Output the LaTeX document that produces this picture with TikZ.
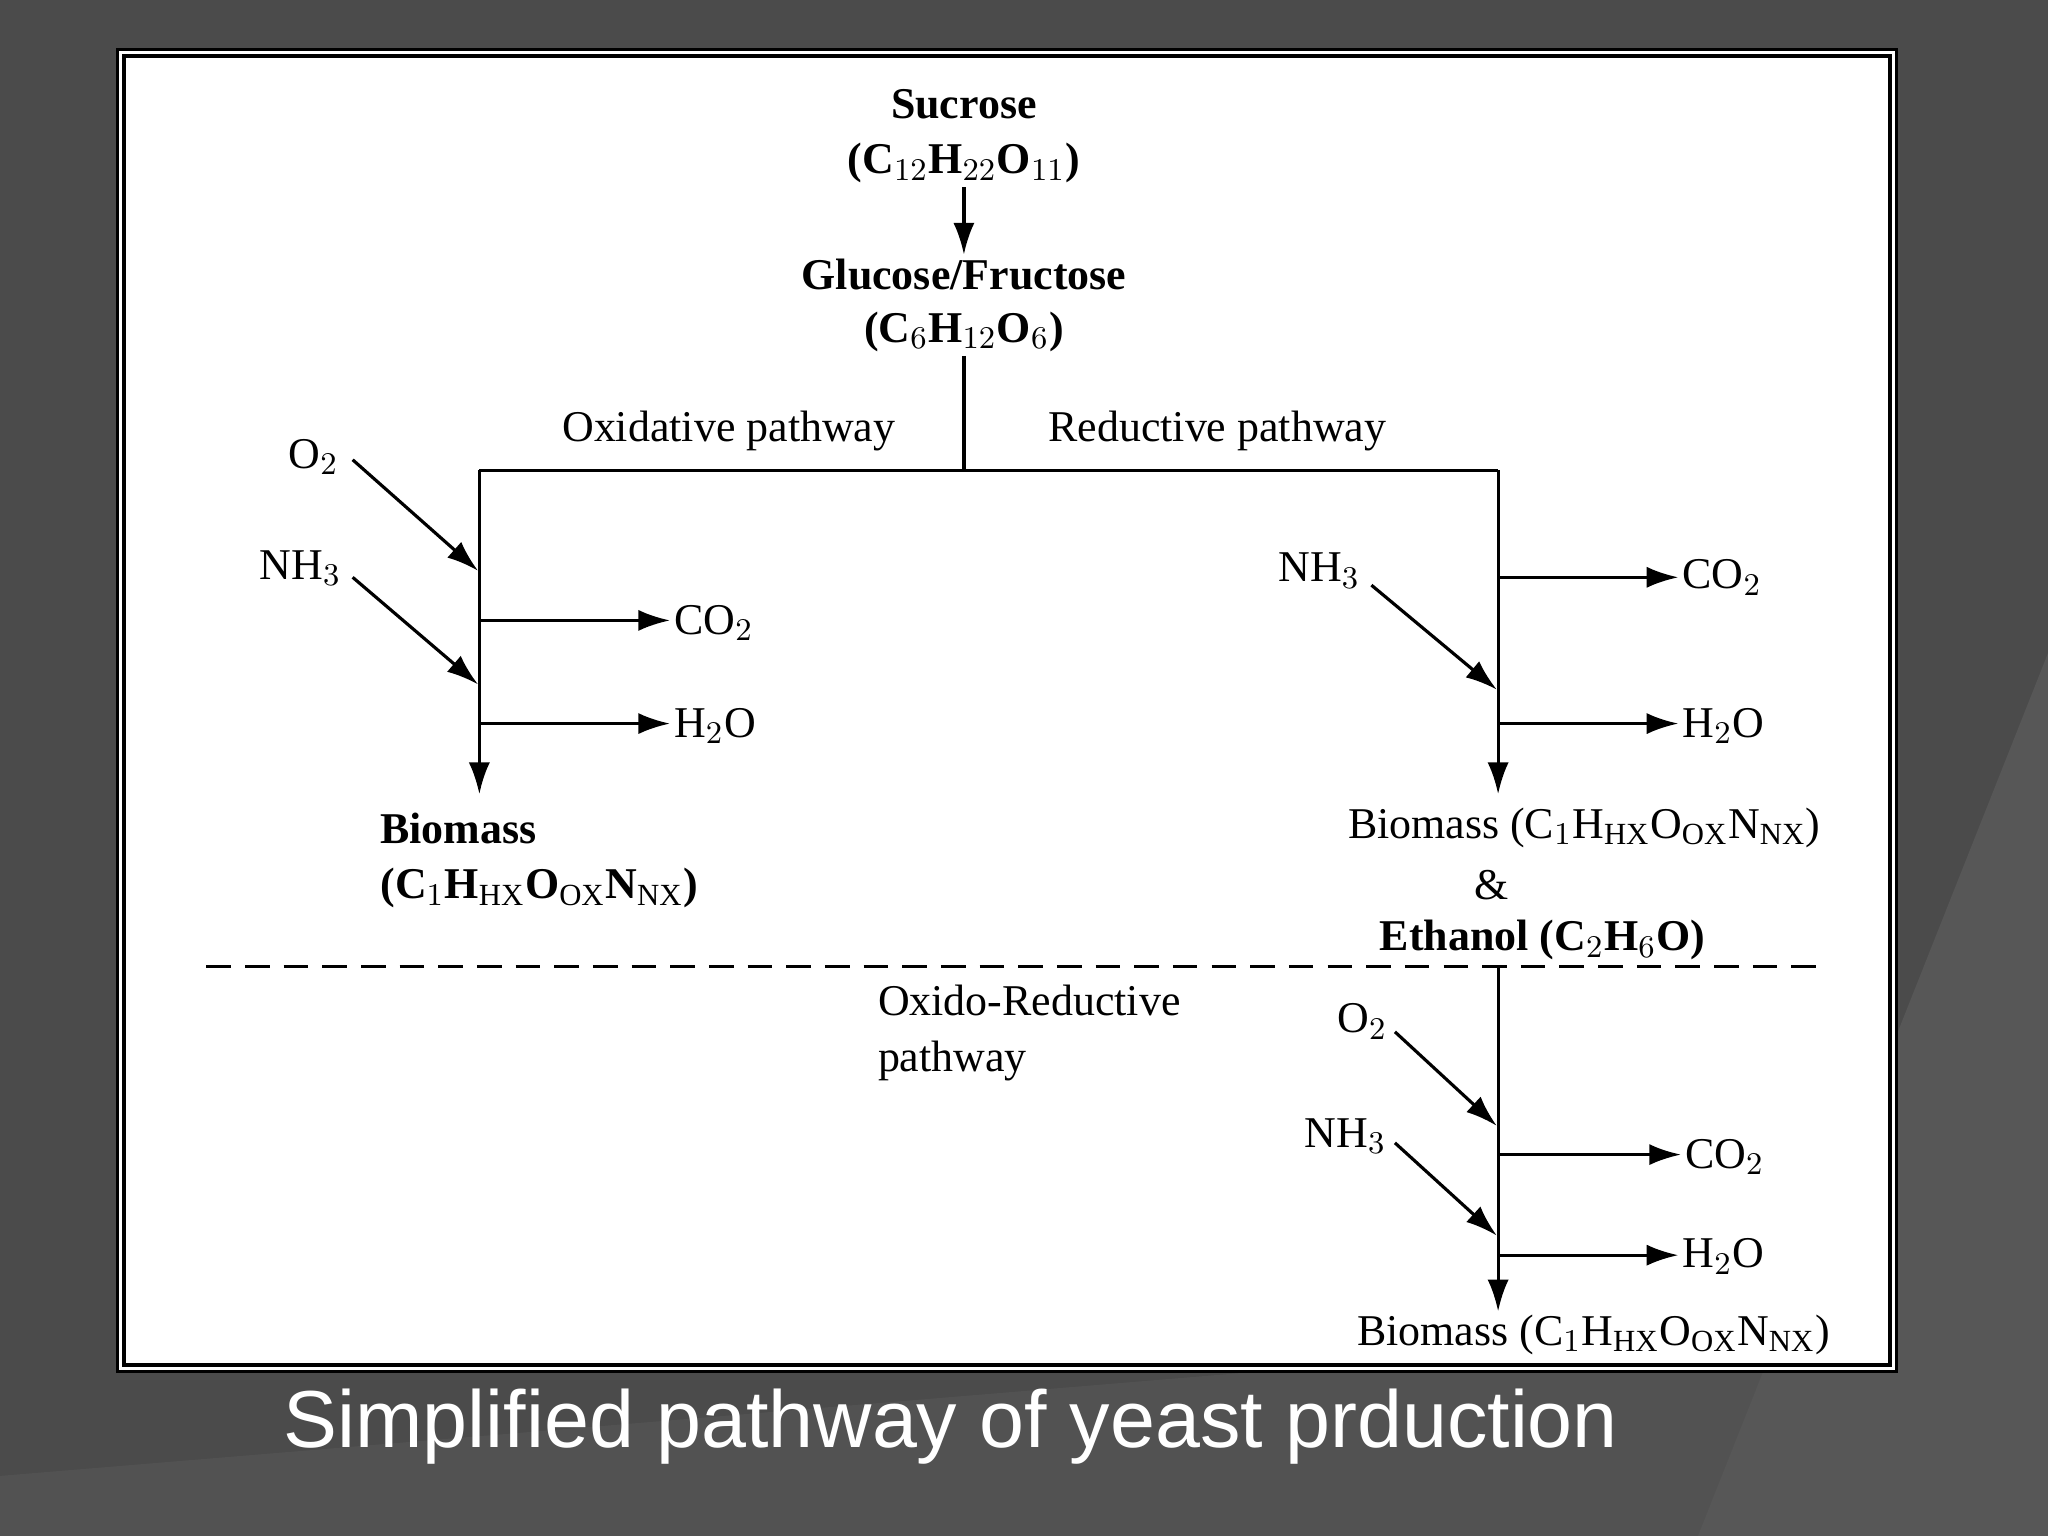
\documentclass[tikz,border=0pt]{standalone}
\usepackage{fontspec}
\setmainfont{Liberation Serif}
\newfontfamily\capfont{Liberation Sans}
\usetikzlibrary{arrows.meta}
\definecolor{bg}{HTML}{4B4B4B}
\definecolor{bgl}{HTML}{575757}
\begin{document}
\begin{tikzpicture}[x=0.01306cm,y=-0.01306cm,
  lbl/.style={font=\fontsize{12.5}{14}\selectfont,inner sep=1pt},
  bl/.style={lbl,font=\fontsize{12.5}{14}\selectfont\bfseries},
  arr/.style={-{Latex[length=9pt,width=6pt]},line width=0.9pt},
  ln/.style={line width=0.9pt}]
\useasboundingbox (0,0) rectangle (1568,1176);
\fill[bg] (0,0) rectangle (1568,1176);
\fill[bgl] (1568,0) -- (1568,500) -- (1300,1176) -- (1568,1176) -- cycle;
\fill[bgl,opacity=0.6] (0,1176) -- (0,1130) -- (1568,1000) -- (1568,1176) -- cycle;
\fill[white] (90,38) rectangle (1452,1050);
\draw[line width=1pt] (90,38) rectangle (1452,1050);
\draw[line width=1pt] (95,43) rectangle (1447,1045);
\node[text=white,font=\capfont\fontsize{23}{28}\selectfont] (cap) at (728,1092) {Simplified pathway of yeast prduction};
% top
\node[bl] (suc) at (738,80) {Sucrose};
\node[bl] (sucf) at (738,125) {(C$_{12}$H$_{22}$O$_{11}$)};
\node[bl] (glu) at (738,210) {Glucose/Fructose};
\node[bl] (gluf) at (738,254) {(C$_6$H$_{12}$O$_6$)};
\draw[arr] (sucf.south) -- (glu.north);
\coordinate (j) at (738,360);
\coordinate (lj) at (367,360);
\coordinate (rj) at (1147,360);
\draw[ln] (gluf.south) -- (j);
\draw[ln] (lj) -- (rj);
\node[lbl] (ox) at (558,330) {Oxidative pathway};
\node[lbl] (red) at (932,330) {Reductive pathway};
% left
\coordinate (lb) at (367,608);
\draw[arr] (lj) -- (lb);
\node[lbl] (o2a) at (240,350) {O$_2$};
\node[lbl] (nh3a) at (230,435) {NH$_3$};
\coordinate (la1) at (366,437); \coordinate (la2) at (366,524);
\draw[arr] (270,352) -- (la1);
\draw[arr] (270,442) -- (la2);
\node[lbl,anchor=west] (co2a) at (513,477) {CO$_2$};
\node[lbl,anchor=west] (h2oa) at (513,556) {H$_2$O};
\draw[arr] (367,475) -- (co2a.west|-0,475);
\draw[arr] (367,554) -- (h2oa.west|-0,554);
\node[bl,anchor=west] (bma) at (288,634) {Biomass};
\node[bl,anchor=west] (bmaf) at (288,680) {(C$_1$H$_{\mathrm{HX}}$O$_{\mathrm{OX}}$N$_{\mathrm{NX}}$)};
% right
\coordinate (rb) at (1147,608);
\draw[arr] (rj) -- (rb);
\node[lbl] (nh3b) at (1010,437) {NH$_3$};
\draw[arr] (1050,448) -- (1146,528);
\node[lbl,anchor=west] (co2b) at (1285,442) {CO$_2$};
\node[lbl,anchor=west] (h2ob) at (1285,556) {H$_2$O};
\draw[arr] (1147,442) -- (co2b.west);
\draw[arr] (1147,554) -- (h2ob.west|-0,554);
\node[lbl] (bmb) at (1213,634) {Biomass (C$_1$H$_{\mathrm{HX}}$O$_{\mathrm{OX}}$N$_{\mathrm{NX}}$)};
\node[lbl] (amp) at (1142,678) {\&};
\node[bl] (eth) at (1181,720) {Ethanol (C$_2$H$_6$O)};
% lower
\draw[ln,dash pattern=on 7pt off 4pt] (158,740) -- (1390,740);
\node[lbl,anchor=west] (oxr) at (669,766) {Oxido-Reductive};
\node[lbl,anchor=west] (oxr2) at (669,812) {pathway};
\coordinate (ct) at (1147,740);
\coordinate (cb) at (1147,1004);
\draw[arr] (ct) -- (cb);
\node[lbl] (o2c) at (1043,782) {O$_2$};
\node[lbl] (nh3c) at (1030,870) {NH$_3$};
\draw[arr] (1068,790) -- (1146,862);
\draw[arr] (1068,875) -- (1146,946);
\node[lbl,anchor=west] (co2c) at (1287,886) {CO$_2$};
\node[lbl,anchor=west] (h2oc) at (1285,962) {H$_2$O};
\draw[arr] (1147,884) -- (co2c.west|-0,884);
\draw[arr] (1147,961) -- (h2oc.west|-0,961);
\node[lbl] (bmc) at (1220,1022) {Biomass (C$_1$H$_{\mathrm{HX}}$O$_{\mathrm{OX}}$N$_{\mathrm{NX}}$)};
\end{tikzpicture}
\end{document}
